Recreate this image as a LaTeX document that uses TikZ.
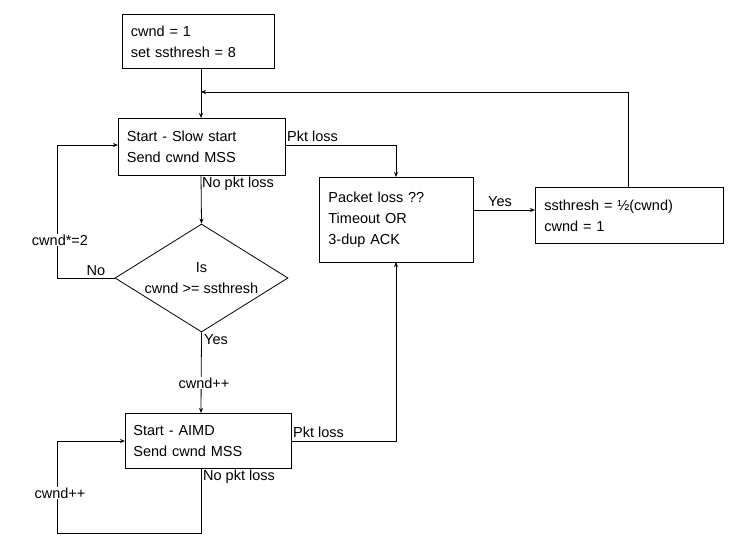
\documentclass[tikz,border=0pt]{standalone}
\usepackage{fontspec}
\setmainfont{Liberation Sans}
\usetikzlibrary{shapes.geometric,arrows.meta}
\begin{document}
\begin{tikzpicture}[x=1pt,y=-1pt,
  every node/.style={font=\fontsize{14.5}{21}\selectfont},
  box/.style={draw,thick,align=left,inner sep=0},
  lbl/.style={fill=white,inner sep=1pt},
  ar/.style={-{Stealth[length=5pt,width=4pt]},thick}]
\useasboundingbox (0,0) rectangle (745,544);
\node[box,minimum width=152,minimum height=54,anchor=north west,text width=135] (init) at (122,14) {cwnd = 1\\set ssthresh = 8};
\node[box,minimum width=167,minimum height=57,anchor=north west,text width=150] (slow) at (118,118) {Start - Slow start\\Send cwnd MSS};
\node[box,minimum width=154,minimum height=85,anchor=north west,text width=136] (pl) at (319,177) {Packet loss ??\\Timeout OR\\3-dup ACK};
\node[box,minimum width=188,minimum height=56,anchor=north west,text width=170] (ss) at (535,187) {ssthresh = \textonehalf(cwnd)\\cwnd = 1};
\node[draw,thick,diamond,aspect=1.6,minimum width=173,minimum height=108,inner sep=0,align=center] (dia) at (201.5,278) {Is\\cwnd >= ssthresh};
\node[box,minimum width=166,minimum height=55,anchor=north west,text width=150] (aimd) at (125,413) {Start - AIMD\\Send cwnd MSS};
\coordinate (c1) at (628,92);
\coordinate (c2) at (201,92);
\coordinate (ll) at (57,145);
\coordinate (la) at (57,441);
\coordinate (lb) at (57,533);
\coordinate (lc) at (201,533);

\draw[ar] (init.south -| c2) -- (c2 |- slow.north);
\draw[ar] (ss.north -| c1) -- (c1) -- (c2);
\draw[ar] (slow.east |- ll) -- (396,145) -- (396,177);
\node[anchor=south west,inner sep=1pt] at (286,143) {Pkt loss};
\draw[ar] (201,175) -- (dia.north);
\node[anchor=north west,inner sep=1pt] at (201,176) {No pkt loss};
\draw[ar] (dia.west) -- (57,278) -- (ll) -- (slow.west |- ll);
\node[lbl] at (60,240) {cwnd*=2};
\node[anchor=south,inner sep=1pt] at (96,277) {No};
\draw[ar] (dia.south) -- (201,413);
\node[anchor=north west,inner sep=1pt] at (203,333) {Yes};
\node[lbl] at (204,383) {cwnd++};
\draw[ar] (aimd.east |- 0,441) -- (396,441) -- (396,262);
\node[anchor=south west,inner sep=1pt] at (292,439) {Pkt loss};
\draw[ar] (201,468) -- (lc) -- (lb) -- (la) -- (aimd.west |- la);
\node[lbl] at (60,493) {cwnd++};
\node[anchor=north west,inner sep=1pt] at (202,469) {No pkt loss};
\draw[ar] (pl.east |- 0,210) -- (ss.west |- 0,210);
\node[anchor=south,inner sep=1pt] at (500,208) {Yes};
\end{tikzpicture}
\end{document}
